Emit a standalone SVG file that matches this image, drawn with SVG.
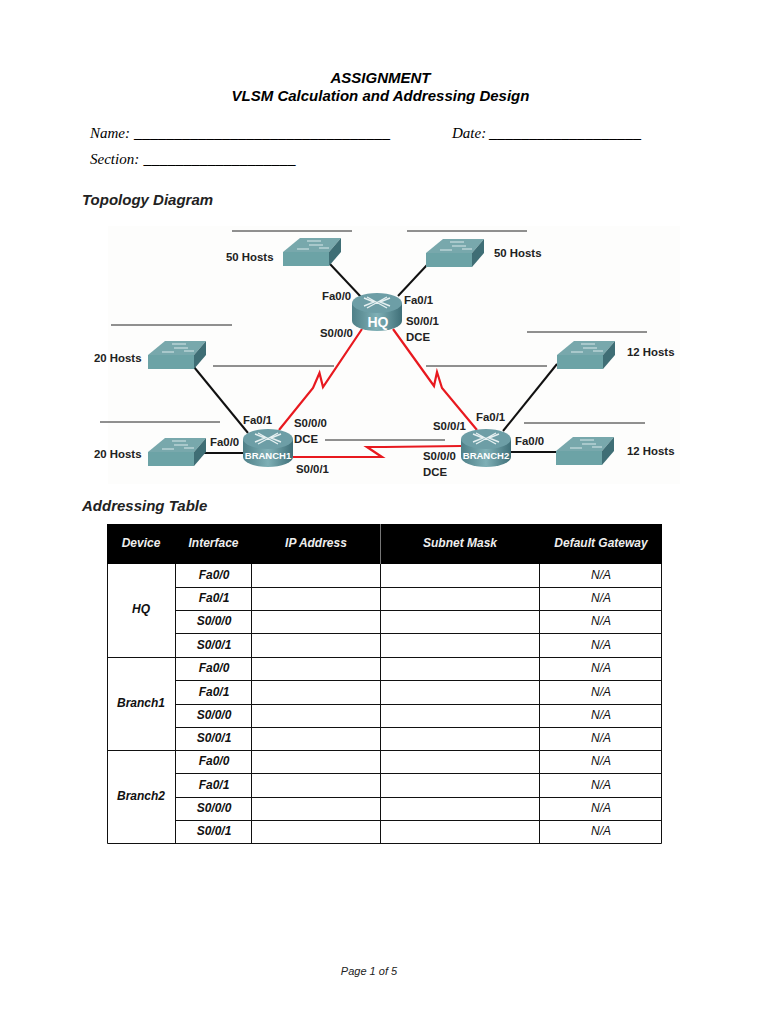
<svg xmlns="http://www.w3.org/2000/svg" width="768" height="1024" viewBox="0 0 768 1024">
<style>
text{font-family:"Liberation Sans",Arial,sans-serif}
.t{font-size:15px;font-weight:bold;font-style:italic;text-anchor:middle;fill:#000}
.f{font-family:"Liberation Serif","Times New Roman",serif;font-size:15px;font-style:italic;fill:#000}
.f tspan{font-size:16px}
.h{font-size:15px;font-weight:bold;font-style:italic;fill:#222}
.l{font-size:11.4px;font-weight:bold;fill:#222}
.th{font-size:12px;font-weight:bold;font-style:italic;fill:#eee;text-anchor:middle}
.c{font-size:12px;font-weight:bold;font-style:italic;fill:#111;text-anchor:middle}
.n{font-size:12px;font-style:italic;fill:#111;text-anchor:middle}
.u{stroke:#222;stroke-width:1;fill:none}
.k{stroke:#111;stroke-width:2;fill:none}
.r{stroke:#e8191f;stroke-width:2.2;fill:none}
.g{stroke:#111;stroke-width:1;fill:none}
.rn{font-weight:bold;fill:#fff;text-anchor:middle}
</style>
<defs>
<linearGradient id="rb" x1="0" x2="1" y1="0" y2="0"><stop offset="0" stop-color="#4f8088"/><stop offset=".5" stop-color="#7fb0b6"/><stop offset="1" stop-color="#3f6f78"/></linearGradient>
<g id="sw">
<polygon points="0,0 17,-14 58,-14 46,0" fill="#78a8ac"/>
<rect x="0" y="0" width="46" height="14" fill="#6ca3a6"/>
<polygon points="46,0 58,-14 58,0 46,14" fill="#3f6e75"/>
<path d="M14,-3h12M26,-7h14M24,-11h14M36,-4h10" stroke="#d8e8ea" stroke-width="1" fill="none"/>
</g>
<g id="rt">
<path d="M-25,0V18A25,10 0 0 0 25,18V0Z" fill="url(#rb)"/>
<ellipse cx="0" cy="0" rx="25" ry="10" fill="#6d9ea6"/>
<path d="M-13,-5L-3,-1L-13,3M13,-5L3,-1L13,3M-10,-6L10,5M10,-6L-10,5" stroke="#e6f0f1" stroke-width="1.4" fill="none"/>
</g>
</defs>
<rect width="768" height="1024" fill="#fff"/>
<rect x="108" y="226" width="572" height="258" fill="#fdfdfc"/>
<g id="header">
<text class="t" x="380.500" y="83">ASSIGNMENT</text>
<text class="t" x="380.500" y="101">VLSM Calculation and Addressing Design</text>
<text class="f" x="90" y="138">Name: <tspan x="134">________________________________</tspan></text>
<text class="f" x="452" y="138">Date: <tspan x="489">___________________</tspan></text>
<text class="f" x="90" y="164">Section: <tspan x="143.500">___________________</tspan></text>
<text class="h" x="82" y="205">Topology Diagram</text>
<text class="h" x="82" y="511">Addressing Table</text>
</g>
<g id="connectors">
<line class="k" x1="330" y1="264" x2="361" y2="297"/>
<line class="k" x1="427" y1="265" x2="398" y2="296"/>
<line class="k" x1="194" y1="367" x2="248" y2="433"/>
<line class="k" x1="204" y1="453" x2="244" y2="453"/>
<line class="k" x1="557" y1="364" x2="503" y2="431"/>
<line class="k" x1="510" y1="452" x2="556" y2="452"/>
<polyline class="r" points="362,329 323,387 319.500,373 313,388 279,430"/>
<polyline class="r" points="393,329 434,386 437,372 442,388 477,430"/>
<polyline class="r" points="293,457 382,457 367,447 384,447 461,446"/>
<g id="blanks">
<line class="u" x1="232" y1="231" x2="352" y2="231"/>
<line class="u" x1="407" y1="231" x2="527" y2="231"/>
<line class="u" x1="111" y1="325" x2="232" y2="325"/>
<line class="u" x1="527" y1="332" x2="647" y2="332"/>
<line class="u" x1="213" y1="366" x2="334" y2="366"/>
<line class="u" x1="426" y1="366" x2="547" y2="366"/>
<line class="u" x1="100" y1="422" x2="220" y2="422"/>
<line class="u" x1="524" y1="423" x2="645" y2="423"/>
<line class="u" x1="325" y1="440" x2="445" y2="440"/>
</g>
</g>
<g id="sw1"><use href="#sw" x="283" y="252"/><text class="l" x="226" y="261">50 Hosts</text></g>
<g id="sw2"><use href="#sw" x="426" y="253"/><text class="l" x="494" y="257">50 Hosts</text></g>
<g id="sw3"><use href="#sw" x="148" y="355"/><text class="l" x="94" y="362">20 Hosts</text></g>
<g id="sw4"><use href="#sw" x="148" y="452"/><text class="l" x="94" y="458">20 Hosts</text></g>
<g id="sw5"><use href="#sw" x="557" y="355"/><text class="l" x="627" y="356">12 Hosts</text></g>
<g id="sw6"><use href="#sw" x="556" y="451"/><text class="l" x="627" y="455">12 Hosts</text></g>
<g id="hq"><use href="#rt" x="377" y="303"/><text class="rn" x="378" y="327" font-size="14">HQ</text></g>
<g id="branch1"><use href="#rt" x="268" y="439"/><text class="rn" x="268" y="459" font-size="9.5">BRANCH1</text></g>
<g id="branch2"><use href="#rt" x="486" y="439"/><text class="rn" x="486" y="459" font-size="9.5">BRANCH2</text></g>
<g id="labels">
<text class="l" x="322" y="300">Fa0/0</text>
<text class="l" x="320" y="337">S0/0/0</text>
<text class="l" x="404" y="304">Fa0/1</text>
<text class="l" x="406" y="325">S0/0/1</text>
<text class="l" x="406" y="341">DCE</text>
<text class="l" x="243" y="424">Fa0/1</text>
<text class="l" x="210" y="446">Fa0/0</text>
<text class="l" x="294" y="427">S0/0/0</text>
<text class="l" x="294" y="443">DCE</text>
<text class="l" x="296" y="473">S0/0/1</text>
<text class="l" x="476" y="421">Fa0/1</text>
<text class="l" x="433" y="430">S0/0/1</text>
<text class="l" x="515" y="445">Fa0/0</text>
<text class="l" x="423" y="460">S0/0/0</text>
<text class="l" x="423" y="476">DCE</text>
</g>
<g id="table">
<rect x="107" y="524" width="555" height="40" fill="#000"/>
<line x1="380.500" y1="524" x2="380.500" y2="564" stroke="#777" stroke-width="1"/>
<text class="th" x="141" y="547">Device</text>
<text class="th" x="213.500" y="547">Interface</text>
<text class="th" x="316" y="547">IP Address</text>
<text class="th" x="460" y="547">Subnet Mask</text>
<text class="th" x="601" y="547">Default Gateway</text>
<path class="g" d="M107.500,564V843.500H661.500V564M175.500,564V843.500M251.500,564V843.500M380.500,564V843.500M539.500,564V843.500M107.500,657.500H661.500M107.500,750.500H661.500M175.500,587.500H661.500M175.500,610.500H661.500M175.500,633.500H661.500M175.500,680.500H661.500M175.500,704.500H661.500M175.500,727.500H661.500M175.500,773.500H661.500M175.500,797.500H661.500M175.500,820.500H661.500"/>
<text class="c" x="141" y="613">HQ</text>
<text class="c" x="141" y="707">Branch1</text>
<text class="c" x="141" y="800">Branch2</text>
<text class="c" x="214" y="579">Fa0/0</text><text class="n" x="601" y="579">N/A</text>
<text class="c" x="214" y="602">Fa0/1</text><text class="n" x="601" y="602">N/A</text>
<text class="c" x="214" y="625">S0/0/0</text><text class="n" x="601" y="625">N/A</text>
<text class="c" x="214" y="649">S0/0/1</text><text class="n" x="601" y="649">N/A</text>
<text class="c" x="214" y="672">Fa0/0</text><text class="n" x="601" y="672">N/A</text>
<text class="c" x="214" y="696">Fa0/1</text><text class="n" x="601" y="696">N/A</text>
<text class="c" x="214" y="719">S0/0/0</text><text class="n" x="601" y="719">N/A</text>
<text class="c" x="214" y="742">S0/0/1</text><text class="n" x="601" y="742">N/A</text>
<text class="c" x="214" y="765">Fa0/0</text><text class="n" x="601" y="765">N/A</text>
<text class="c" x="214" y="789">Fa0/1</text><text class="n" x="601" y="789">N/A</text>
<text class="c" x="214" y="812">S0/0/0</text><text class="n" x="601" y="812">N/A</text>
<text class="c" x="214" y="835">S0/0/1</text><text class="n" x="601" y="835">N/A</text>
</g>
<text x="369" y="975" font-size="11" font-style="italic" fill="#222" text-anchor="middle">Page 1 of 5</text>
</svg>
